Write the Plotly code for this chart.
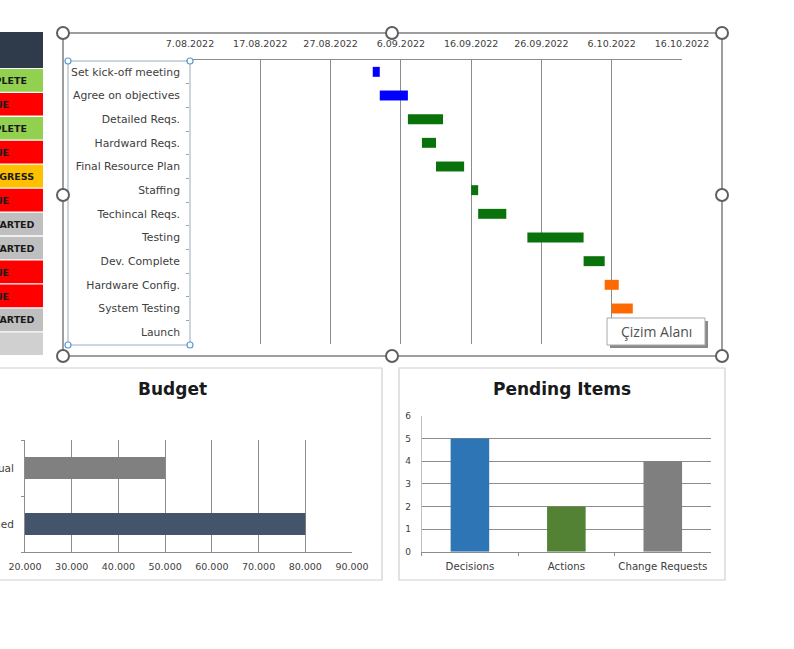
import plotly.graph_objects as go
import pandas as pd

W, H = 794, 649

# ---------------- data ----------------
tasks = ["Set kick-off meeting", "Agree on objectives", "Detailed Reqs.", "Hardward Reqs.",
         "Final Resource Plan", "Staffing", "Techincal Reqs.", "Testing", "Dev. Complete",
         "Hardware Config.", "System Testing", "Launch"]
task_start = ["2022-09-02", "2022-09-03", "2022-09-07", "2022-09-09", "2022-09-11", "2022-09-16",
              "2022-09-17", "2022-09-24", "2022-10-02", "2022-10-05", "2022-10-06", "2022-10-09"]
task_days = [1, 4, 5, 2, 4, 1, 4, 8, 3, 2, 3, 0]
task_colors = ["#0000FF", "#0000FF", "#0A720A", "#0A720A", "#0A720A", "#0A720A", "#0A720A",
               "#0A720A", "#0A720A", "#FF6A00", "#FF6A00", "#FF6A00"]
status = ["COMPLETE", "DUE", "COMPLETE", "DUE", "IN PROGRESS", "DUE", "NOT STARTED",
          "NOT STARTED", "DUE", "DUE", "NOT STARTED", ""]
status_colors = {"COMPLETE": "#92D050", "DUE": "#FF0000", "IN PROGRESS": "#FFC000",
                 "NOT STARTED": "#BFBFBF", "": "#D0D0D0"}
date_ticks = ["2022-08-07", "2022-08-17", "2022-08-27", "2022-09-06", "2022-09-16",
              "2022-09-26", "2022-10-06", "2022-10-16"]
date_labels = ["7.08.2022", "17.08.2022", "27.08.2022", "6.09.2022", "16.09.2022",
               "26.09.2022", "6.10.2022", "16.10.2022"]

budget_cats = ["Planned", "Actual"]
budget_vals = [80000, 50000]
budget_colors = ["#44546A", "#808080"]

pending_cats = ["Decisions", "Actions", "Change Requests"]
pending_vals = [5, 2, 4]
pending_colors = ["#2E75B6", "#548235", "#7F7F7F"]

FONT = "DejaVu Sans"


def px(x):
    return x / W


def py(y):
    return 1 - y / H


fig = go.Figure()

# ---------------- Gantt ----------------
MS_DAY = 24 * 3600 * 1000
fig.add_trace(go.Bar(
    y=tasks, x=[d * MS_DAY for d in task_days], base=pd.to_datetime(task_start),
    orientation="h", marker=dict(color=task_colors, line=dict(width=0)),
    width=0.42, xaxis="x", yaxis="y", showlegend=False, hoverinfo="skip"))

# ---------------- Budget ----------------
fig.add_trace(go.Bar(
    y=budget_cats, x=budget_vals, orientation="h",
    marker=dict(color=budget_colors, line=dict(width=0)),
    width=0.39, xaxis="x2", yaxis="y2", showlegend=False, hoverinfo="skip"))

# ---------------- Pending ----------------
fig.add_trace(go.Bar(
    x=pending_cats, y=pending_vals,
    marker=dict(color=pending_colors, line=dict(width=0)),
    width=0.4, xaxis="x3", yaxis="y3", showlegend=False, hoverinfo="skip"))

shapes = []
annotations = []

# status column
shapes.append(dict(type="rect", xref="paper", yref="paper", x0=px(-5), x1=px(43),
                   y0=py(68), y1=py(32), fillcolor="#2F3A4A", line=dict(width=0), layer="below"))
row_top = 68.5
row_h = 23.95
for i, s in enumerate(status):
    y0 = row_top + i * row_h
    shapes.append(dict(type="rect", xref="paper", yref="paper", x0=px(-5), x1=px(43),
                       y0=py(y0 + row_h - 0.8), y1=py(y0 + 0.5),
                       fillcolor=status_colors[s], line=dict(width=0), layer="below"))
    if s:
        annotations.append(dict(text=f"<b>{s}</b>", xref="paper", yref="paper",
                                x=px(-2), y=py(y0 + row_h / 2), xanchor="center",
                                yanchor="middle", showarrow=False,
                                font=dict(family=FONT, size=9.5, color="#1A1A1A")))

# outer gantt chart border
shapes.append(dict(type="rect", xref="paper", yref="paper", x0=px(63), x1=px(722),
                   y0=py(356), y1=py(33), line=dict(color="#7F7F7F", width=1.5), layer="below"))
# label selection box
shapes.append(dict(type="rect", xref="paper", yref="paper", x0=px(68), x1=px(190),
                   y0=py(345), y1=py(61), line=dict(color="#9AAABB", width=1), layer="above"))
for cx, cy in [(68, 61), (190, 61), (68, 345), (190, 345)]:
    shapes.append(dict(type="circle", xref="paper", yref="paper",
                       x0=px(cx - 3), x1=px(cx + 3), y0=py(cy + 3), y1=py(cy - 3),
                       fillcolor="white", line=dict(color="#5B9BD5", width=1.2), layer="above"))

# budget box and pending box
shapes.append(dict(type="rect", xref="paper", yref="paper", x0=px(-5), x1=px(382),
                   y0=py(580), y1=py(368), line=dict(color="#D0D0D0", width=1.2), layer="below"))
shapes.append(dict(type="rect", xref="paper", yref="paper", x0=px(399), x1=px(725),
                   y0=py(580), y1=py(368), line=dict(color="#D0D0D0", width=1.2), layer="below"))

# tooltip
shapes.append(dict(type="rect", xref="paper", yref="paper", x0=px(610), x1=px(708),
                   y0=py(348), y1=py(321), fillcolor="#8A8A8A", line=dict(width=0), layer="above"))
shapes.append(dict(type="rect", xref="paper", yref="paper", x0=px(607), x1=px(705),
                   y0=py(345), y1=py(318), fillcolor="white",
                   line=dict(color="#A8A8A8", width=1), layer="above"))
annotations.append(dict(text="Çizim Alanı", xref="paper", yref="paper", x=px(656), y=py(331),
                        xanchor="center", yanchor="middle", showarrow=False,
                        font=dict(family="Open Sans", size=14, color="#505050")))

# big handles
for cx, cy in [(63, 33), (392, 33), (722, 33), (63, 195), (722, 195),
               (63, 356), (392, 356), (722, 356)]:
    shapes.append(dict(type="circle", xref="paper", yref="paper",
                       x0=px(cx - 6), x1=px(cx + 6), y0=py(cy + 6), y1=py(cy - 6),
                       fillcolor="white", line=dict(color="#5F5F5F", width=2), layer="above"))

# titles
annotations.append(dict(text="<b>Budget</b>", xref="paper", yref="paper", x=px(172), y=py(389),
                        xanchor="center", yanchor="middle", showarrow=False,
                        font=dict(family=FONT, size=17, color="#1A1A1A")))
annotations.append(dict(text="<b>Pending Items</b>", xref="paper", yref="paper", x=px(562),
                        y=py(389), xanchor="center", yanchor="middle", showarrow=False,
                        font=dict(family=FONT, size=17, color="#1A1A1A")))

tickfont = dict(family=FONT, size=9.5, color="#404040")
smallfont = dict(family=FONT, size=9, color="#404040")

fig.update_layout(
    width=W, height=H, margin=dict(l=0, r=0, t=0, b=0, autoexpand=False),
    paper_bgcolor="white", plot_bgcolor="rgba(0,0,0,0)",
    separators=",.", barmode="overlay",
    shapes=shapes, annotations=annotations,
    xaxis=dict(domain=[px(190), px(682)], type="date", side="top", automargin=False,
               range=["2022-08-07", "2022-10-16"], tickvals=date_ticks, ticktext=date_labels,
               showgrid=True, gridcolor="#8C8C8C", gridwidth=1, showline=True,
               linecolor="#8C8C8C", linewidth=1, ticks="", tickfont=tickfont, tickangle=0,
               anchor="y", zeroline=False, fixedrange=True, ticklabelstandoff=8),
    yaxis=dict(domain=[py(344), py(60)], type="category", categoryarray=tasks, automargin=False,
               range=[len(tasks) - 0.5, -0.5], showgrid=False, showline=False,
               ticks="outside", tickson="boundaries", ticklen=3, tickcolor="#A0A0A0",
               tickfont=dict(family=FONT, size=10.8, color="#404040"), anchor="x",
               ticklabelstandoff=9),
    xaxis2=dict(domain=[px(25), px(352)], range=[20000, 90000], dtick=10000, automargin=False,
                tickformat=",d", showgrid=True, gridcolor="#8C8C8C", gridwidth=1, tickangle=0,
                showline=True, linecolor="#8C8C8C", ticks="",
                tickfont=dict(family=FONT, size=9.5, color="#404040"),
                anchor="y2", zeroline=False, ticklabelstandoff=6),
    yaxis2=dict(domain=[py(552), py(440)], type="category", categoryarray=budget_cats,
                automargin=False,
                range=[-0.5, 1.5], showgrid=False, showline=True, linecolor="#8C8C8C",
                ticks="outside", tickson="boundaries", ticklen=3, tickcolor="#8C8C8C",
                tickfont=dict(family=FONT, size=10.5, color="#404040"), anchor="x2",
                ticklabelstandoff=8),
    xaxis3=dict(domain=[px(421.7), px(711)], type="category", categoryarray=pending_cats,
                automargin=False, tickangle=0,
                range=[-0.5, 2.5], showgrid=False, showline=True, linecolor="#8C8C8C",
                ticks="outside", tickson="boundaries", ticklen=3, tickcolor="#8C8C8C",
                tickfont=dict(family=FONT, size=10.2, color="#404040"), anchor="y3",
                ticklabelstandoff=5),
    yaxis3=dict(domain=[py(551.7), py(416)], range=[0, 6], dtick=1, showgrid=True,
                automargin=False,
                gridcolor="#8C8C8C", gridwidth=1, showline=True, linecolor="#BFBFBF",
                ticks="", tickfont=smallfont, anchor="x3", zeroline=False,
                ticklabelstandoff=8),
)

fig.write_html("out.html")
